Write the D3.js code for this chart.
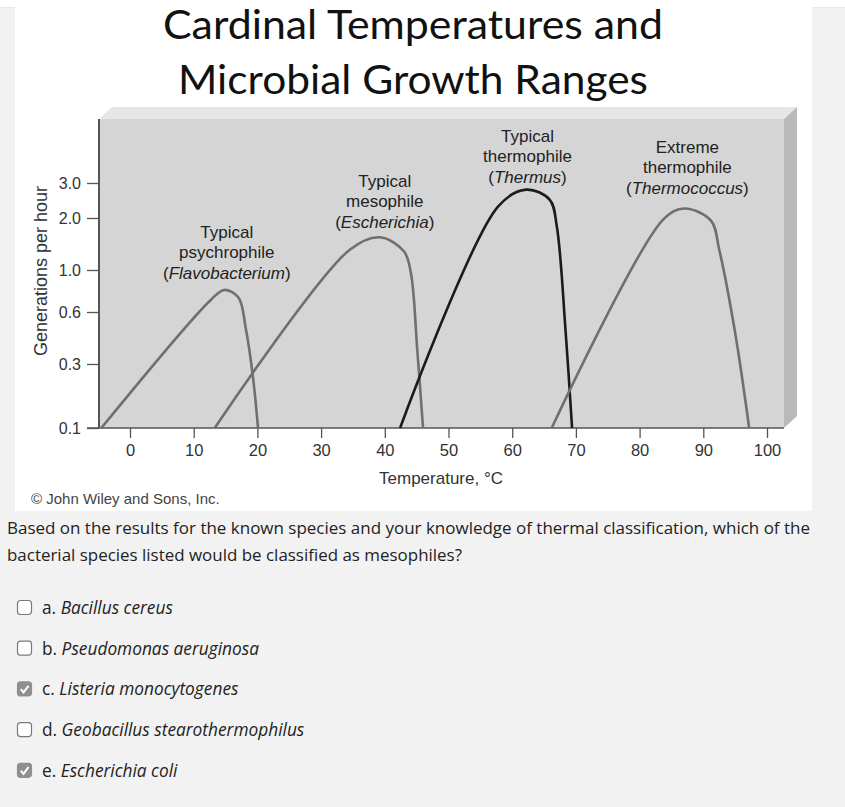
<!DOCTYPE html>
<html>
<head>
<meta charset="utf-8">
<script src="https://cdn.jsdelivr.net/npm/d3@7"></script>
<style>
  html, body { margin: 0; padding: 0; background: #f2f2f2; }
  svg { display: block; }
</style>
</head>
<body>
<svg id="page" width="845" height="807"></svg>
<script>
// ---- data ----
const titleLines = ["Cardinal Temperatures and", "Microbial Growth Ranges"];
const xTicks = [0, 10, 20, 30, 40, 50, 60, 70, 80, 90, 100];
const yTicks = [0.1, 0.3, 0.6, 1.0, 2.0, 3.0];
const yTickLabels = ["0.1", "0.3", "0.6", "1.0", "2.0", "3.0"];

// [temperature °C, generations per hour]
const psychrophile = [[-4.5, 0.1], [12.6, 0.71], [14.8, 0.81], [17.0, 0.74], [18.2, 0.5], [19.3, 0.26], [20.1, 0.1]];
const mesophile    = [[13.3, 0.1], [34.5, 1.39], [39.2, 1.63], [43.0, 1.36], [44.1, 0.97], [45.1, 0.38], [46.0, 0.1]];
const thermophile  = [[42.4, 0.1], [57.8, 2.33], [62.2, 2.81], [65.9, 2.52], [67.0, 1.84], [68.4, 0.48], [69.4, 0.1]];
const extremeTherm = [[66.2, 0.1], [83.7, 1.97], [87.0, 2.27], [91.2, 1.95], [92.5, 1.39], [95.0, 0.48], [97.2, 0.1]];

const curveNames = ["psychrophile", "mesophile", "thermophile", "extreme"];
const curveData = [psychrophile, mesophile, thermophile, extremeTherm];
const curveLabels = [
  ["Typical", "psychrophile", "(|Flavobacterium|)"],
  ["Typical", "mesophile", "(|Escherichia|)"],
  ["Typical", "thermophile", "(|Thermus|)"],
  ["Extreme", "thermophile", "(|Thermococcus|)"]
];
// label anchor: temperature of label centre, and the y value (gen/h) of its first line
const labelAt = [[15.2, 1.62], [40.0, 2.9], [62.4, 4.18], [87.5, 3.87]];

const question = [
  "Based on the results for the known species and your knowledge of thermal classification, which of the",
  "bacterial species listed would be classified as mesophiles?"
];
const optionLetters = ["a.", "b.", "c.", "d.", "e."];
const optionNames = ["Bacillus cereus", "Pseudomonas aeruginosa", "Listeria monocytogenes",
                     "Geobacillus stearothermophilus", "Escherichia coli"];
const optionChecked = [false, false, true, false, true];

// ---- page ----
const svg = d3.select("#page");

svg.append("rect").attr("width", 845).attr("height", 807).attr("fill", "#f2f2f2");
svg.append("rect").attr("x", 0).attr("y", 0).attr("width", 845).attr("height", 7).attr("fill", "#fff");
svg.append("rect").attr("x", 0).attr("y", 7).attr("width", 845).attr("height", 1).attr("fill", "#e8e8e8");
svg.append("rect").attr("x", 15).attr("y", 7).attr("width", 797).attr("height", 504).attr("fill", "#fff");

// title
svg.selectAll("text.title")
  .data(titleLines)
  .join("text")
  .attr("class", "title")
  .attr("x", 413)
  .attr("y", (d, i) => 39 + i * 55)
  .attr("text-anchor", "middle")
  .attr("font-family", "Lato, 'Open Sans', sans-serif")
  .attr("font-size", 40)
  .attr("fill", "#111")
  .attr("textLength", (d, i) => i === 0 ? 500 : 470)
  .attr("lengthAdjust", "spacingAndGlyphs")
  .text(d => d);

// ---- chart ----
const x = d3.scaleLinear().domain([0, 100]).range([130, 767]);
const y = d3.scaleLinear().domain(yTicks).range([428, 364, 312, 270, 218, 183]);

const boxL = 99, boxR = 784, boxT = 119, boxB = 428, depth = 13, rise = 12;

// 3D box faces
svg.append("path")
  .attr("d", `M${boxL},${boxT}L${boxL + depth},${boxT - rise}L${boxR + depth},${boxT - rise}L${boxR},${boxT}Z`)
  .attr("fill", "#e6e6e6");
svg.append("path")
  .attr("d", `M${boxR},${boxT}L${boxR + depth},${boxT - rise}L${boxR + depth},${boxB - rise}L${boxR},${boxB}Z`)
  .attr("fill", "#b9b9b9");
svg.append("rect")
  .attr("x", boxL).attr("y", boxT)
  .attr("width", boxR - boxL).attr("height", boxB - boxT)
  .attr("fill", "#d5d5d5");

const axisFont = "'Liberation Sans', Arial, sans-serif";

// y axis
const yAxis = svg.append("g")
  .attr("transform", `translate(${boxL},0)`)
  .call(d3.axisLeft(y).tickValues(yTicks).tickFormat((d, i) => yTickLabels[i]).tickSize(12).tickPadding(6));
yAxis.select(".domain").remove();
yAxis.selectAll(".tick line").attr("stroke", "#555").attr("stroke-width", 1.3);
yAxis.selectAll(".tick text").attr("font-family", axisFont).attr("font-size", 16).attr("fill", "#333");

svg.append("line")
  .attr("x1", boxL).attr("x2", boxL).attr("y1", boxT).attr("y2", boxB)
  .attr("stroke", "#555").attr("stroke-width", 2);

// x axis
const xAxis = svg.append("g")
  .attr("transform", `translate(0,${boxB})`)
  .call(d3.axisBottom(x).tickValues(xTicks).tickSize(10).tickPadding(6));
xAxis.select(".domain").remove();
xAxis.selectAll(".tick line").attr("stroke", "#555").attr("stroke-width", 1.3);
xAxis.selectAll(".tick text").attr("font-family", axisFont).attr("font-size", 16.5).attr("fill", "#333");

svg.append("line")
  .attr("x1", 87).attr("x2", boxR).attr("y1", boxB).attr("y2", boxB)
  .attr("stroke", "#555").attr("stroke-width", 1.6);

// axis titles
svg.append("text")
  .attr("transform", "translate(47,271) rotate(-90)")
  .attr("text-anchor", "middle")
  .attr("font-family", axisFont).attr("font-size", 18).attr("fill", "#333")
  .text("Generations per hour");

svg.append("text")
  .attr("x", 441).attr("y", 484)
  .attr("text-anchor", "middle")
  .attr("font-family", axisFont).attr("font-size", 17).attr("fill", "#333")
  .text("Temperature, °C");

svg.append("text")
  .attr("x", 31).attr("y", 504)
  .attr("font-family", axisFont).attr("font-size", 15).attr("fill", "#444")
  .text("© John Wiley and Sons, Inc.");

// growth curves
const line = d3.line()
  .x(d => x(d[0]))
  .y(d => y(d[1]))
  .curve(d3.curveCatmullRom.alpha(0.5));

svg.append("g")
  .selectAll("path")
  .data(curveData)
  .join("path")
  .attr("class", (d, i) => "curve " + curveNames[i])
  .attr("d", line)
  .attr("fill", "none")
  .attr("stroke", (d, i) => curveNames[i] === "thermophile" ? "#1b1b1b" : "#6f6f6f")
  .attr("stroke-width", 2.6);

// curve labels, italic part between bars
const labelG = svg.append("g")
  .attr("font-family", axisFont)
  .attr("font-size", 17)
  .attr("fill", "#222")
  .attr("text-anchor", "middle");

curveLabels.forEach((lines, i) => {
  const cx = x(labelAt[i][0]);
  const y0 = y(labelAt[i][1]);
  lines.forEach((ln, j) => {
    const t = labelG.append("text").attr("x", cx).attr("y", y0 + j * 20.5);
    ln.split("|").forEach((part, k) => {
      if (!part) return;
      t.append("tspan").attr("font-style", k === 1 ? "italic" : "normal").text(part);
    });
  });
});

// ---- question ----
const qFont = "'Open Sans', 'Noto Sans', sans-serif";
svg.selectAll("text.q")
  .data(question)
  .join("text")
  .attr("class", "q")
  .attr("x", 7)
  .attr("y", (d, i) => 534 + i * 27)
  .attr("font-family", qFont)
  .attr("font-size", 16.5)
  .attr("fill", "#222")
  .attr("textLength", (d, i) => i === 0 ? 803 : 455)
  .attr("lengthAdjust", "spacingAndGlyphs")
  .text(d => d);

const opt = svg.selectAll("g.opt")
  .data(optionNames)
  .join("g")
  .attr("class", "opt")
  .attr("transform", (d, i) => `translate(0,${608 + i * 40.7})`);

opt.append("rect")
  .attr("x", 17.5).attr("y", -7.5)
  .attr("width", 14).attr("height", 14)
  .attr("rx", 3)
  .attr("fill", (d, i) => optionChecked[i] ? "#8f8f8f" : "#fff")
  .attr("stroke", (d, i) => optionChecked[i] ? "#8f8f8f" : "#7a7a7a")
  .attr("stroke-width", 1.2);

opt.filter((d, i) => optionChecked[i])
  .append("path")
  .attr("d", "M20.8,-0.2L23.5,3L28.5,-3.6")
  .attr("fill", "none")
  .attr("stroke", "#fff")
  .attr("stroke-width", 2);

const optText = opt.append("text")
  .attr("x", 42).attr("y", 6)
  .attr("font-family", qFont)
  .attr("font-size", 17.3)
  .attr("fill", "#222");
optText.append("tspan").text((d, i) => optionLetters[i] + " ");
optText.append("tspan").attr("font-style", "italic").text(d => d);
</script>
</body>
</html>
